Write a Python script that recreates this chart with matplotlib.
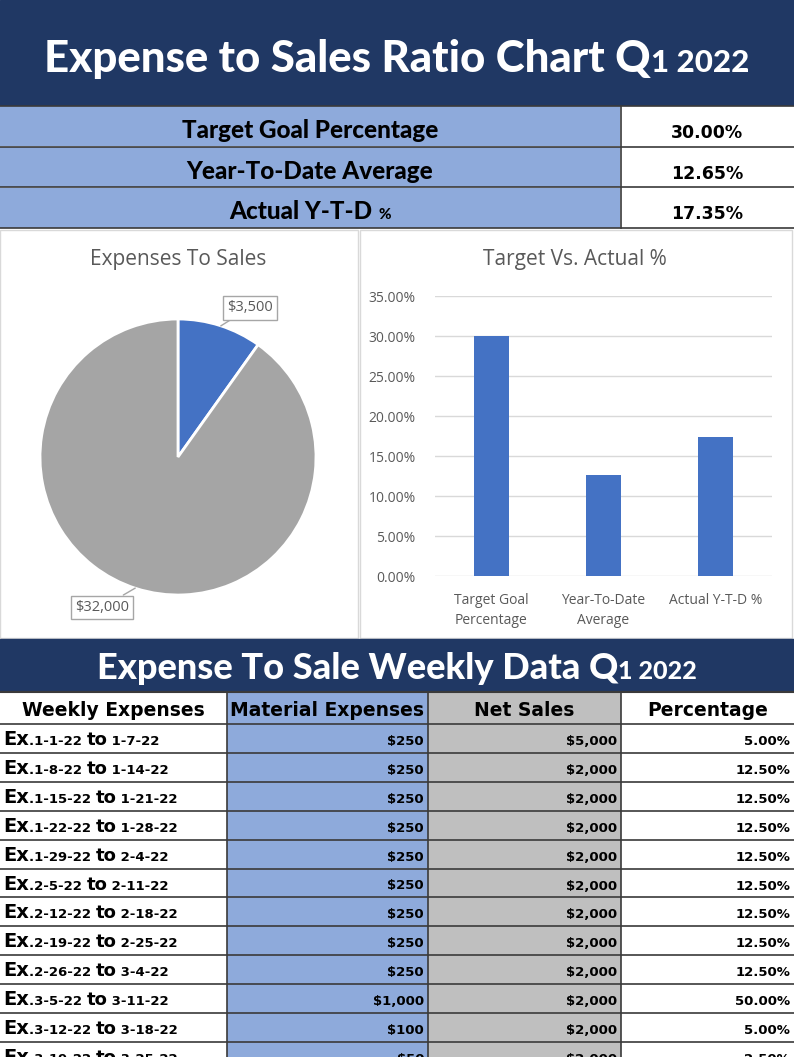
import matplotlib
matplotlib.use("Agg")
import matplotlib.pyplot as plt
from matplotlib.patches import Rectangle
from matplotlib.ticker import FuncFormatter

# ---------------- data ----------------
main_title = ("Expense to Sales Ratio Chart Q", "1 2022")
summary_labels = ["Target Goal Percentage", "Year-To-Date Average", "Actual Y-T-D %"]
summary_values = [30.00, 12.65, 17.35]

pie_title = "Expenses To Sales"
pie_values = [3500, 32000]
pie_labels = ["$3,500", "$32,000"]

bar_title = "Target Vs. Actual %"
bar_categories = ["Target Goal\nPercentage", "Year-To-Date\nAverage", "Actual Y-T-D %"]
bar_values = [0.30, 0.1265, 0.1735]
bar_ticks = [0.0, 0.05, 0.10, 0.15, 0.20, 0.25, 0.30, 0.35]

section_title = ("Expense To Sale Weekly Data Q", "1 2022")
table_headers = ["Weekly Expenses", "Material Expenses", "Net Sales", "Percentage"]
week_starts = ["1-1-22", "1-8-22", "1-15-22", "1-22-22", "1-29-22", "2-5-22",
               "2-12-22", "2-19-22", "2-26-22", "3-5-22", "3-12-22", "3-19-22"]
week_ends = ["1-7-22", "1-14-22", "1-21-22", "1-28-22", "2-4-22", "2-11-22",
             "2-18-22", "2-25-22", "3-4-22", "3-11-22", "3-18-22", "3-25-22"]
material_expenses = [250, 250, 250, 250, 250, 250, 250, 250, 250, 1000, 100, 50]
net_sales = [5000, 2000, 2000, 2000, 2000, 2000, 2000, 2000, 2000, 2000, 2000, 2000]
percentages = [5.00, 12.50, 12.50, 12.50, 12.50, 12.50, 12.50, 12.50, 12.50, 50.00, 5.00, 2.50]

# ---------------- style ----------------
NAVY = "#203864"
LBLUE = "#8eaadb"
GRAYCELL = "#bfbfbf"
LINE = "#3a3a3a"
BLUE = "#4472c4"
PIEGRAY = "#a5a5a5"
TXTGRAY = "#595959"
HFONT = ["Lato", "DejaVu Sans"]
TFONT = ["DejaVu Sans"]
CFONT = ["Open Sans", "DejaVu Sans"]

W, H = 794, 1057
fig = plt.figure(figsize=(W / 100, H / 100), dpi=100)
bg = fig.add_axes([0, 0, 1, 1])
bg.set_xlim(0, W)
bg.set_ylim(H, 0)
bg.axis("off")
renderer = fig.canvas.get_renderer()


def pieces(x, y, parts, ha="left", family=HFONT, color="black", weight="bold"):
    """Draw consecutive text parts on one baseline. parts = [(text, size)]"""
    arts = []
    widths = []
    for txt, size in parts:
        t = bg.text(0, y, txt, fontsize=size, family=family, color=color,
                    weight=weight, va="baseline", ha="left", zorder=3)
        widths.append(t.get_window_extent(renderer).width)
        arts.append(t)
    total = sum(widths)
    if ha == "center":
        x0 = x - total / 2
    elif ha == "right":
        x0 = x - total
    else:
        x0 = x
    for t, w in zip(arts, widths):
        t.set_x(x0)
        x0 += w


# ---------------- header ----------------
bg.add_patch(Rectangle((0, 0), W, 105, color=NAVY, zorder=0))
pieces(397, 72, [(main_title[0], 31.5), (main_title[1], 22.5)], ha="center",
       family=HFONT, color="white", weight="black")

# ---------------- summary rows ----------------
row_tops = [106, 147, 188]
baselines = [138, 179, 219]
for i, (lab, val) in enumerate(zip(summary_labels, summary_values)):
    top = row_tops[i]
    bg.add_patch(Rectangle((0, top), 620, 40, facecolor=LBLUE, edgecolor="none", zorder=1))
    bg.add_patch(Rectangle((621, top), 173, 40, facecolor="white", edgecolor="none", zorder=1))
    if lab.endswith("%"):
        pieces(310, baselines[i], [(lab[:-1], 17.5), ("%", 11)], ha="center", weight="black")
    else:
        pieces(310, baselines[i], [(lab, 17.5)], ha="center", weight="black")
    bg.text(707, baselines[i], f"{val:.2f}%", fontsize=12.5, family=TFONT,
            weight="bold", ha="center", va="baseline", zorder=3)
for yl in [106, 147, 187, 228]:
    bg.plot([0, W], [yl, yl], color=LINE, lw=1.2, zorder=2)
bg.plot([621, 621], [106, 228], color=LINE, lw=1.2, zorder=2)

# ---------------- chart panels ----------------
bg.add_patch(Rectangle((0, 230), 358, 408, facecolor="white", edgecolor="#d9d9d9", lw=1, zorder=1))
bg.add_patch(Rectangle((360, 230), 432, 408, facecolor="white", edgecolor="#d9d9d9", lw=1, zorder=1))
bg.text(178, 259, pie_title, fontsize=15, family=CFONT, color=TXTGRAY, ha="center", va="center", zorder=3)
bg.text(575, 259, bar_title, fontsize=15, family=CFONT, color=TXTGRAY, ha="center", va="center", zorder=3)

# pie
cx, cy, r = 178, 457, 138
pax = fig.add_axes([(cx - r) / W, (H - cy - r) / H, 2 * r / W, 2 * r / H])
pax.pie(pie_values, colors=[BLUE, PIEGRAY], startangle=90, counterclock=False,
        wedgeprops=dict(edgecolor="white", linewidth=2))
pax.set_xlim(-1, 1)
pax.set_ylim(-1, 1)
pax.set_aspect("auto")
pax.axis("off")
bbox = dict(boxstyle="square,pad=0.3", facecolor="white", edgecolor="#a6a6a6", lw=1)
pax.annotate(pie_labels[0], xy=(0.31, 0.95), xytext=(0.52, 1.08),
             fontsize=10.5, family=CFONT, color=TXTGRAY, ha="center", va="center",
             bbox=bbox, annotation_clip=False,
             arrowprops=dict(arrowstyle="-", color="#a6a6a6", lw=1, shrinkA=0, shrinkB=0))
pax.annotate(pie_labels[1], xy=(-0.31, -0.95), xytext=(-0.55, -1.09),
             fontsize=10.5, family=CFONT, color=TXTGRAY, ha="center", va="center",
             bbox=bbox, annotation_clip=False,
             arrowprops=dict(arrowstyle="-", color="#a6a6a6", lw=1, shrinkA=0, shrinkB=0))

# bars
bax = fig.add_axes([435 / W, (H - 576) / H, 337 / W, 280 / H])
xpos = list(range(len(bar_values)))
bax.bar(xpos, bar_values, width=0.31, color=BLUE, zorder=3)
bax.set_xlim(-0.5, 2.5)
bax.set_ylim(0, 0.35)
bax.set_yticks(bar_ticks)
bax.yaxis.set_major_formatter(FuncFormatter(lambda v, p: f"{v * 100:.2f}%"))
bax.set_xticks(xpos)
bax.set_xticklabels(bar_categories, fontsize=10, family=CFONT, color=TXTGRAY,
                    linespacing=1.45)
for lbl in bax.get_yticklabels():
    lbl.set_fontsize(10)
    lbl.set_family(CFONT)
    lbl.set_color(TXTGRAY)
bax.tick_params(axis="y", length=0, pad=14)
bax.tick_params(axis="x", length=0, pad=12)
bax.grid(axis="y", color="#d9d9d9", lw=1, zorder=0)
for s in bax.spines.values():
    s.set_visible(False)
bax.set_facecolor("none")

# ---------------- section header ----------------
bg.add_patch(Rectangle((0, 639), W, 52, color=NAVY, zorder=1))
pieces(397, 679, [(section_title[0], 26), (section_title[1], 18)], ha="center",
       color="white", weight="black")

# ---------------- weekly table ----------------
col_edges = [0, 227, 428, 621, W]
col_colors = ["white", LBLUE, GRAYCELL, "white"]
head_top, head_h = 692, 32
row_h = 28.9
n = len(week_starts)
tab_bottom = head_top + head_h + row_h * n
for c in range(4):
    bg.add_patch(Rectangle((col_edges[c], head_top), col_edges[c + 1] - col_edges[c],
                           tab_bottom - head_top, facecolor=col_colors[c],
                           edgecolor="none", zorder=1))
for c, htxt in enumerate(table_headers):
    xc = (col_edges[c] + col_edges[c + 1]) / 2
    bg.text(xc, 716, htxt, fontsize=13.5, family=TFONT, weight="bold",
            ha="center", va="baseline", zorder=3)

bg.plot([0, W], [head_top, head_top], color=LINE, lw=1.5, zorder=2)
for k in range(n + 1):
    yl = head_top + head_h + row_h * k
    bg.plot([0, W], [yl, yl], color=LINE, lw=1.2, zorder=2)
for xe in col_edges[1:-1]:
    bg.plot([xe, xe], [head_top, tab_bottom], color=LINE, lw=1.2, zorder=2)

for k in range(n):
    top = head_top + head_h + row_h * k
    base = top + 21
    pieces(3, base, [("Ex", 14), (f".{week_starts[k]} ", 9.5), ("to", 13),
                     (f" {week_ends[k]}", 9.5)], family=TFONT)
    bg.text(424, base, f"${material_expenses[k]:,}", fontsize=9.5, family=TFONT,
            weight="bold", ha="right", va="baseline", zorder=3)
    bg.text(617, base, f"${net_sales[k]:,}", fontsize=9.5, family=TFONT,
            weight="bold", ha="right", va="baseline", zorder=3)
    bg.text(790, base, f"{percentages[k]:.2f}%", fontsize=9.5, family=TFONT,
            weight="bold", ha="right", va="baseline", zorder=3)

fig.savefig("out.png", dpi=100)
